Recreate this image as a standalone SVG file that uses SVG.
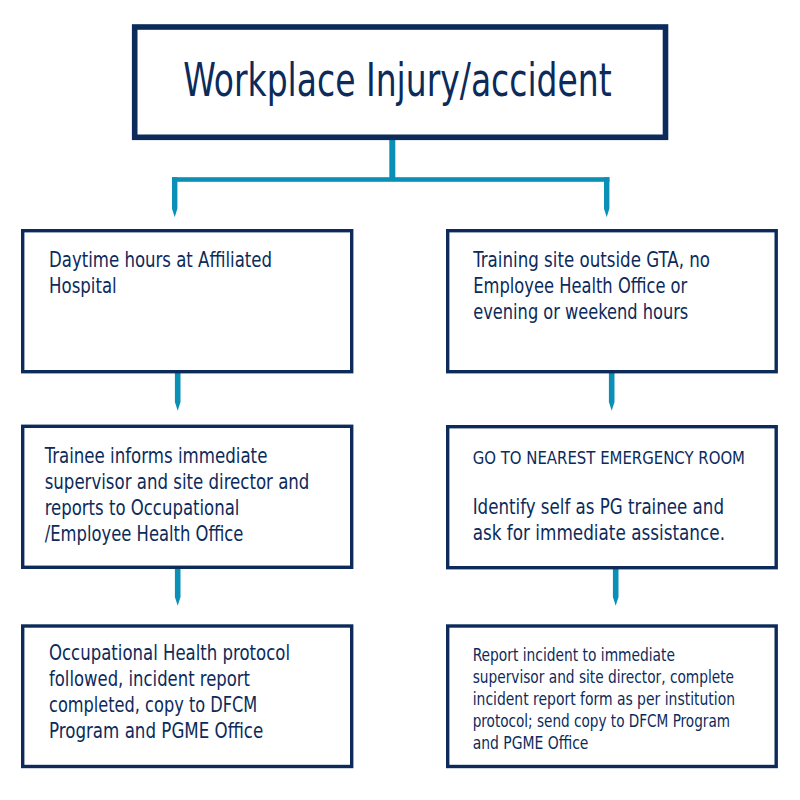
<svg xmlns="http://www.w3.org/2000/svg" width="800" height="800" viewBox="0 0 800 800">
<style>
.box{fill:#ffffff;stroke:#0c2b5b;stroke-width:3.4}
.top{fill:#ffffff;stroke:#0c2b5b;stroke-width:5.6}
.t{font-family:"Liberation Sans Narrow","DejaVu Sans Condensed","Liberation Sans",sans-serif;fill:#0c2b5b;font-size:22px}
.ttl{font-size:47px}
.sm{font-size:18.5px}
.xs{font-size:17.5px}
.c{fill:#0a8fb7}
</style>
<rect width="800" height="800" fill="#ffffff"/>
<g id="connectors">
<rect class="c" x="389.3" y="139" width="6" height="39"/>
<rect class="c" x="172" y="177.2" width="437.4" height="4.6"/>
<path class="c" d="M172,177.2 H177.4 V208.5 L174.7,217.3 L172,208.5 Z"/>
<path class="c" d="M604,177.2 H609.4 V208.5 L606.7,217.3 L604,208.5 Z"/>
<path class="c" d="M174.9,372 H180.5 V402 L177.7,410.8 L174.9,402 Z"/>
<path class="c" d="M608.9,372 H614.5 V402 L611.7,410.8 L608.9,402 Z"/>
<path class="c" d="M174.9,567 H180.5 V597 L177.7,605.8 L174.9,597 Z"/>
<path class="c" d="M612.9,568 H618.5 V597 L615.7,605.8 L612.9,597 Z"/>
</g>
<g id="n-top">
<rect class="top" x="134.7" y="27" width="530.8" height="110.3"/>
<text class="t ttl" x="183.3" y="96" textLength="428.4" lengthAdjust="spacingAndGlyphs">Workplace Injury/accident</text>
</g>
<g id="n-daytime">
<rect class="box" x="22.7" y="230.7" width="329" height="141"/>
<text class="t" x="49" y="266.7" textLength="223" lengthAdjust="spacingAndGlyphs">Daytime hours at Affiliated</text>
<text class="t" x="49" y="292.7" textLength="67.7" lengthAdjust="spacingAndGlyphs">Hospital</text>
</g>
<g id="n-outside">
<rect class="box" x="447.7" y="230.7" width="328.5" height="141"/>
<text class="t" x="473.3" y="266.7" textLength="236.7" lengthAdjust="spacingAndGlyphs">Training site outside GTA, no</text>
<text class="t" x="473.3" y="292.7" textLength="214" lengthAdjust="spacingAndGlyphs">Employee Health Office or</text>
<text class="t" x="473.3" y="319.3" textLength="215" lengthAdjust="spacingAndGlyphs">evening or weekend hours</text>
</g>
<g id="n-inform">
<rect class="box" x="22.7" y="426.3" width="329" height="141"/>
<text class="t" x="44.7" y="463.3" textLength="222.7" lengthAdjust="spacingAndGlyphs">Trainee informs immediate</text>
<text class="t" x="44.7" y="489" textLength="264.7" lengthAdjust="spacingAndGlyphs">supervisor and site director and</text>
<text class="t" x="44.7" y="515" textLength="194.7" lengthAdjust="spacingAndGlyphs">reports to Occupational</text>
<text class="t" x="44.7" y="541" textLength="198.7" lengthAdjust="spacingAndGlyphs">/Employee Health Office</text>
</g>
<g id="n-er">
<rect class="box" x="447.7" y="426.7" width="328.5" height="141"/>
<text class="t sm" x="472.7" y="464.3" textLength="272.3" lengthAdjust="spacingAndGlyphs">GO TO NEAREST EMERGENCY ROOM</text>
<text class="t" x="472.7" y="514.3" textLength="251.3" lengthAdjust="spacingAndGlyphs">Identify self as PG trainee and</text>
<text class="t" x="472.7" y="540" textLength="252.3" lengthAdjust="spacingAndGlyphs">ask for immediate assistance.</text>
</g>
<g id="n-ohp">
<rect class="box" x="22.7" y="626" width="329" height="140.5"/>
<text class="t" x="49" y="660" textLength="241" lengthAdjust="spacingAndGlyphs">Occupational Health protocol</text>
<text class="t" x="49" y="686" textLength="201" lengthAdjust="spacingAndGlyphs">followed, incident report</text>
<text class="t" x="49" y="712" textLength="208.3" lengthAdjust="spacingAndGlyphs">completed, copy to DFCM</text>
<text class="t" x="49" y="738.3" textLength="214.3" lengthAdjust="spacingAndGlyphs">Program and PGME Office</text>
</g>
<g id="n-report">
<rect class="box" x="447.7" y="626" width="328.5" height="140.5"/>
<text class="t xs" x="472.7" y="661" textLength="202.3" lengthAdjust="spacingAndGlyphs">Report incident to immediate</text>
<text class="t xs" x="472.7" y="683.1" textLength="261.3" lengthAdjust="spacingAndGlyphs">supervisor and site director, complete</text>
<text class="t xs" x="472.7" y="705.2" textLength="262.3" lengthAdjust="spacingAndGlyphs">incident report form as per institution</text>
<text class="t xs" x="472.7" y="727.3" textLength="257.3" lengthAdjust="spacingAndGlyphs">protocol; send copy to DFCM Program</text>
<text class="t xs" x="472.7" y="749.4" textLength="115.7" lengthAdjust="spacingAndGlyphs">and PGME Office</text>
</g>
</svg>
